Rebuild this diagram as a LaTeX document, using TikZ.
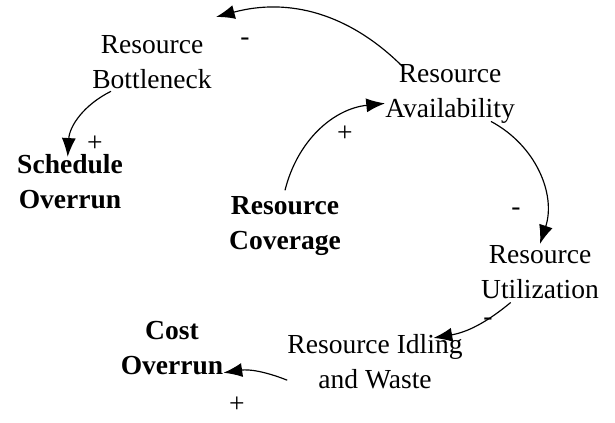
\documentclass[tikz,border=0pt]{standalone}
\usepackage{fontspec}
\setmainfont{Liberation Serif}
\usetikzlibrary{arrows.meta}
\begin{document}
\begin{tikzpicture}[x=0.03cm,y=-0.03cm]
\tikzstyle{every node}+=[inner sep=0pt,align=center,font=\fontsize{23.5}{30}\selectfont]
\tikzstyle{link}=[draw,line width=1pt,-{Latex[length=16pt,width=12pt]}]
\tikzstyle{bold}=[font=\fontsize{23.5}{30}\selectfont\bfseries]
\useasboundingbox (0,0) rectangle (615,423);
\node (neck) at (152,62) {Resource\\Bottleneck};
\node (avail) at (450,94) {Resource\\Availability};
\node[bold] (sched) at (70,182) {Schedule\\Overrun};
\node[bold] (cover) at (285,226) {Resource\\Coverage};
\node (util) at (540,272) {Resource\\Utilization};
\node[bold] (cost) at (172,348) {Cost\\Overrun};
\node (idle) at (375,362) {Resource Idling\\and Waste};
\coordinate (neckin) at (216,17);
\draw[link] ([xshift=15pt,yshift=-2pt]avail.north west) to[bend right=30] (neckin);
\draw[link] ([xshift=-35pt,yshift=-2pt]neck.south) to[bend right=30] ([xshift=-2pt,yshift=-2pt]sched.north);
\draw[link] ([yshift=5pt]cover.north) to[bend left=35] ([yshift=-8pt]avail.west);
\draw[link] ([xshift=35pt,yshift=2pt]avail.south) to[bend left=40] ([yshift=1pt]util.north);
\draw[link] ([xshift=-25pt,yshift=-3pt]util.south) to[bend left=15] ([xshift=-25pt,yshift=-3pt]idle.north east);
\draw[link] ([yshift=8pt]idle.south west) to[bend right=15] ([yshift=2pt]cost.south east);
\node (m1) at (245,42) {-};
\node (p1) at (95,144) {+};
\node (p2) at (345,134) {+};
\node (m2) at (516,212) {-};
\node (m3) at (488,322) {-};
\node (p3) at (237,405) {+};
\end{tikzpicture}
\end{document}
